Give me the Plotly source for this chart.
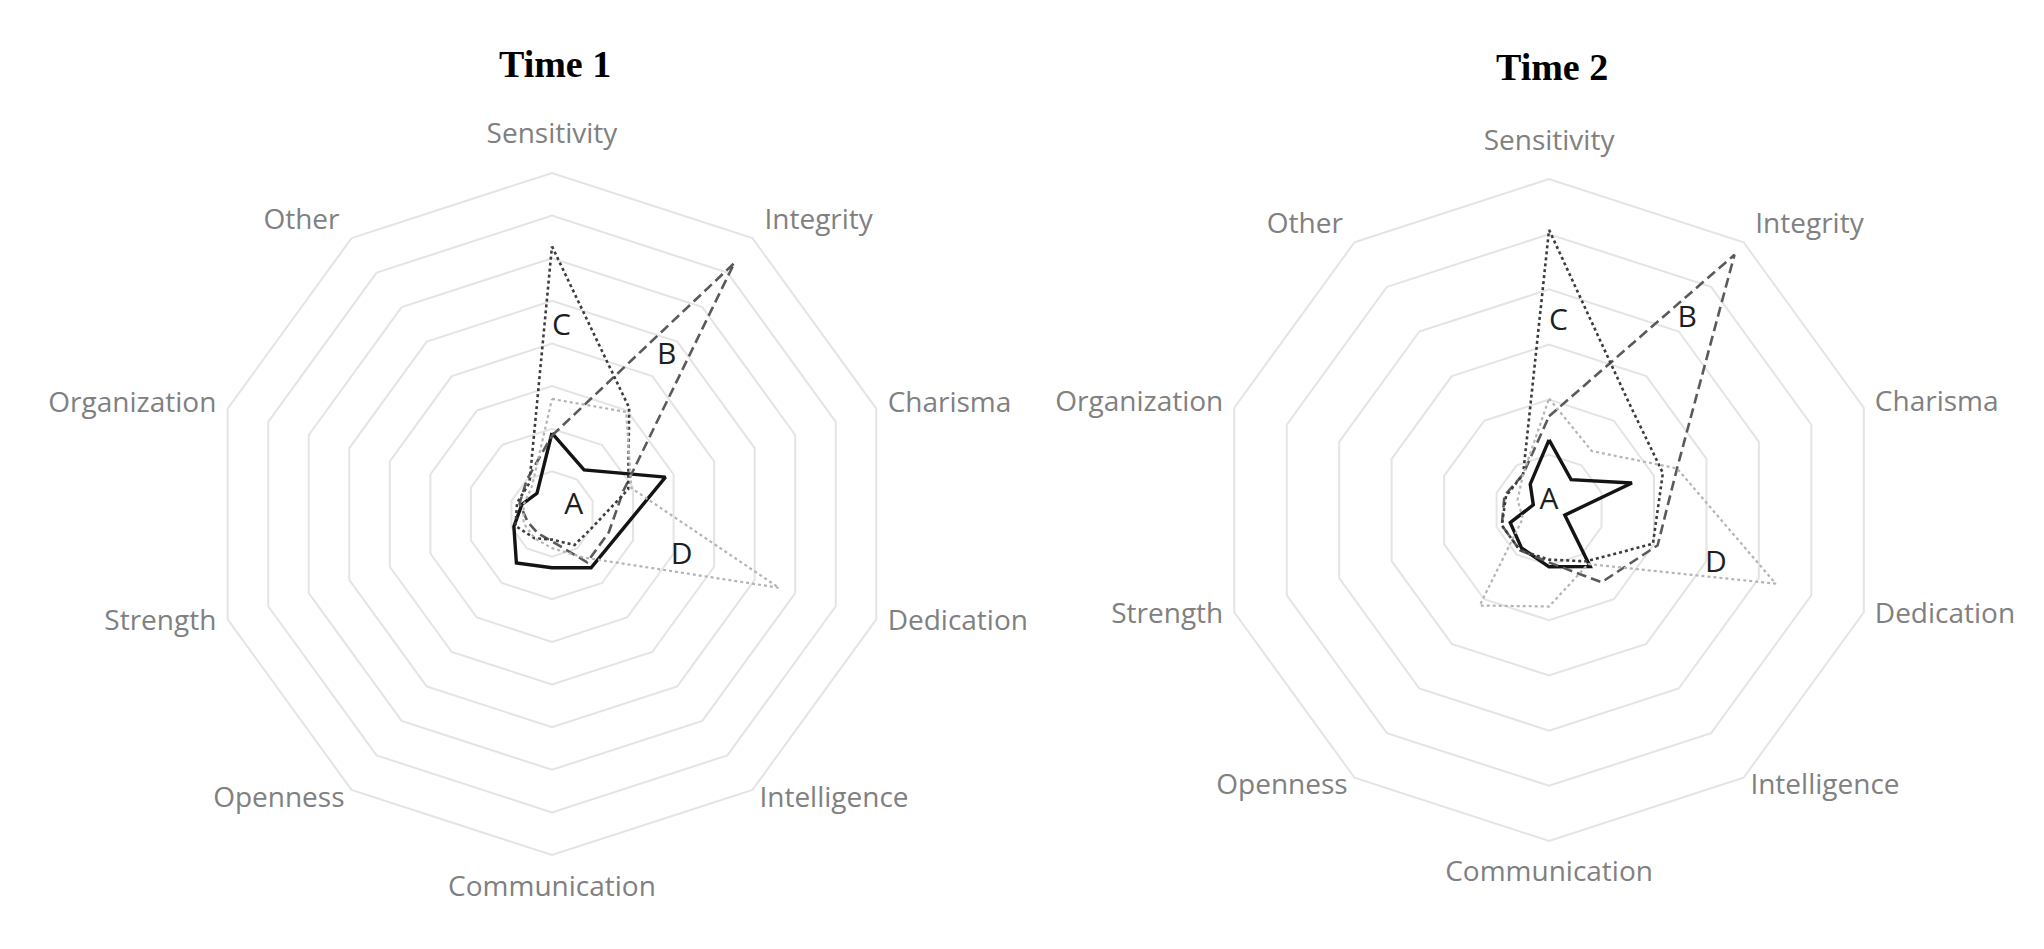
import plotly.graph_objects as go

categories = ["Sensitivity", "Integrity", "Charisma", "Dedication", "Intelligence",
              "Communication", "Openness", "Strength", "Organization", "Other"]

# Time 1 (rings every 5, max 40)
time1_a = [9.5, 6.4, 14.0, 8.1, 7.8, 6.3, 7.1, 4.7, 3.7, 3.0]
time1_b = [9.2, 36.4, 8.8, 7.0, 7.0, 3.2, 2.8, 3.0, 4.0, 5.0]
time1_c = [31.4, 15.4, 9.4, 5.0, 4.5, 3.0, 3.5, 4.5, 4.3, 4.5]
time1_d = [13.5, 14.8, 9.8, 28.0, 6.3, 4.0, 3.5, 3.5, 3.5, 4.0]

# Time 2 (rings every 10, max 60)
time2_a = [12.7, 6.8, 15.8, 3.0, 12.7, 10.3, 8.5, 7.4, 3.0, 5.8]
time2_b = [17.0, 57.2, 24.4, 20.7, 16.2, 9.5, 9.0, 9.0, 8.5, 8.0]
time2_c = [50.8, 24.4, 21.7, 19.8, 11.5, 9.0, 9.0, 9.0, 8.2, 8.0]
time2_d = [20.2, 13.2, 24.4, 43.2, 12.1, 17.5, 21.4, 5.0, 6.0, 8.0]

# series letters placed inside each chart
letters = ["A", "B", "C", "D"]
time1_letter_theta = ["Charisma", "Integrity", "Sensitivity", "Dedication"]
time1_letter_r = [2.7, 22.9, 21.9, 16.0]
time2_letter_theta = ["Sensitivity", "Integrity", "Sensitivity", "Dedication"]
time2_letter_r = [1.6, 42.6, 33.9, 31.8]

titles = ["Time 1", "Time 2"]

styles = {
    "A": dict(color="#141414", width=3.4, dash="solid"),
    "B": dict(color="#5a5a5a", width=2.6, dash="10px,5px"),
    "C": dict(color="#3c3c3c", width=2.6, dash="dot"),
    "D": dict(color="#b4b4b4", width=2.2, dash="dot"),
}

# where the category names sit, as a fraction of the outer ring
label_scale = [1.11, 1.06, 1.035, 1.035, 1.035, 1.1, 1.035, 1.035, 1.035, 1.06]
label_pos = ["middle center", "middle right", "middle right", "middle right", "middle right",
             "middle center", "middle left", "middle left", "middle left", "middle left"]
RANGE_PAD = 1.12  # radial range goes past the outer ring so the names fit


def closed(values):
    return values + values[:1]


def add_chart(fig, polar, series, letter_theta, letter_r, rmax):
    for name, values in zip(letters, series):
        fig.add_trace(go.Scatterpolar(
            r=closed(values),
            theta=closed(categories),
            mode="lines",
            line=styles[name],
            hoverinfo="skip",
            subplot=polar,
        ))
    positions = ["middle center", "middle center", "middle right", "middle center"]
    fig.add_trace(go.Scatterpolar(
        r=letter_r,
        theta=letter_theta,
        mode="text",
        text=letters,
        textposition=positions,
        textfont=dict(family="Open Sans", size=30, color="#1e1e1e"),
        hoverinfo="skip",
        subplot=polar,
    ))
    # category names (Excel style placement around the outer ring)
    fig.add_trace(go.Scatterpolar(
        r=[rmax * s for s in label_scale],
        theta=categories,
        mode="text",
        text=categories,
        textposition=label_pos,
        textfont=dict(family="Open Sans", size=28, color="#808080"),
        cliponaxis=False,
        hoverinfo="skip",
        subplot=polar,
    ))


def polar_layout(xdom, ydom, rmax, step):
    rings = list(range(step, rmax + 1, step))
    return dict(
        domain=dict(x=xdom, y=ydom),
        bgcolor="white",
        gridshape="linear",
        radialaxis=dict(range=[0, rmax * RANGE_PAD], tickmode="array", tickvals=rings,
                        showticklabels=False, showline=False, ticks="",
                        gridcolor="#e4e4e4", gridwidth=2),
        angularaxis=dict(direction="clockwise", rotation=90, showgrid=False,
                         showline=False, ticks="", showticklabels=False),
    )


fig = go.Figure()
add_chart(fig, "polar", [time1_a, time1_b, time1_c, time1_d], time1_letter_theta, time1_letter_r, 40)
add_chart(fig, "polar2", [time2_a, time2_b, time2_c, time2_d], time2_letter_theta, time2_letter_r, 60)

fig.update_layout(
    width=2044,
    height=949,
    margin=dict(l=0, r=0, t=0, b=0),
    paper_bgcolor="white",
    showlegend=False,
    polar=polar_layout([0.0832, 0.4569], [0.0558, 0.8609], 40, 5),
    polar2=polar_layout([0.5765, 0.9392], [0.0720, 0.8532], 60, 10),
    annotations=[
        dict(text="<b>" + titles[0] + "</b>", x=0.2715, y=0.933, xref="paper", yref="paper",
             xanchor="center", yanchor="middle", showarrow=False,
             font=dict(family="Liberation Serif", size=38, color="black")),
        dict(text="<b>" + titles[1] + "</b>", x=0.7593, y=0.929, xref="paper", yref="paper",
             xanchor="center", yanchor="middle", showarrow=False,
             font=dict(family="Liberation Serif", size=38, color="black")),
    ],
)

# drop the browser's default 8px body margin so the figure sits at the page corner
fig.write_html("out.html", config={"displayModeBar": False},
               post_script="document.body.style.margin='0px';")
